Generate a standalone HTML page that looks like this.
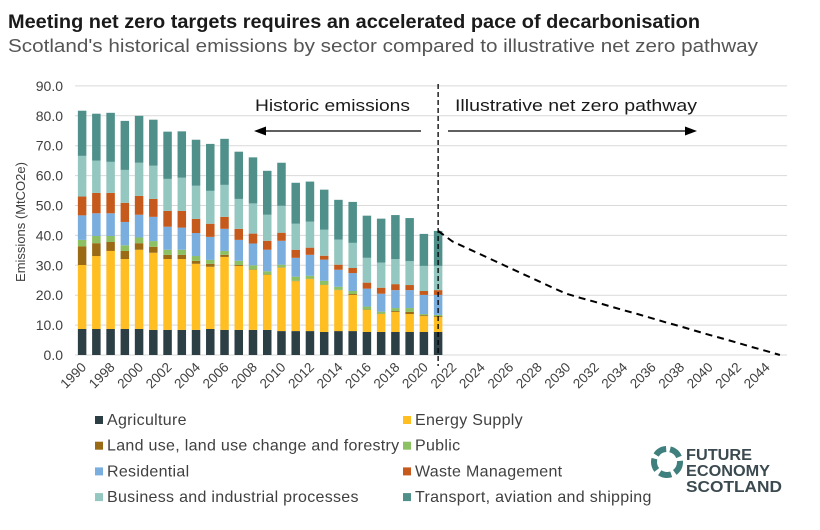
<!DOCTYPE html>
<html><head><meta charset="utf-8"><style>
body{margin:0;background:#fff;font-family:"Liberation Sans",sans-serif}
svg{display:block}
</style></head><body>
<svg id="c" width="820" height="530" viewBox="0 0 820 530">
<text x="8" y="28" font-size="19" font-weight="bold" fill="#1a1a1a" textLength="692" lengthAdjust="spacingAndGlyphs">Meeting net zero targets requires an accelerated pace of decarbonisation</text>
<text x="8" y="52" font-size="18" fill="#555" textLength="750" lengthAdjust="spacingAndGlyphs">Scotland's historical emissions by sector compared to illustrative net zero pathway</text>
<text transform="translate(25,222) rotate(-90)" text-anchor="middle" font-size="13" fill="#404040">Emissions (MtCO2e)</text>
<text x="255" y="111" font-size="17" fill="#1a1a1a" textLength="155" lengthAdjust="spacingAndGlyphs">Historic emissions</text>
<text x="455" y="111" font-size="17" fill="#1a1a1a" textLength="242" lengthAdjust="spacingAndGlyphs">Illustrative net zero pathway</text>
<g><line x1="265" y1="131" x2="421" y2="131" stroke="#000" stroke-width="1.3"/><polygon points="254,131 266,126.5 266,135.5" fill="#000"/></g>
<g><line x1="448" y1="131" x2="686" y2="131" stroke="#000" stroke-width="1.3"/><polygon points="697,131 685,126.5 685,135.5" fill="#000"/></g>
<g id="grid"></g><g id="bars"></g><g id="xl"></g>
<g>
<circle cx="667" cy="462" r="13" fill="none" stroke="#3f7f7d" stroke-width="6" stroke-dasharray="12 4"/>
<text x="686" y="460" font-size="16" font-weight="bold" fill="#3b4a50" textLength="66" lengthAdjust="spacingAndGlyphs">FUTURE</text>
<text x="686" y="476" font-size="16" font-weight="bold" fill="#3b4a50" textLength="84" lengthAdjust="spacingAndGlyphs">ECONOMY</text>
<text x="686" y="492" font-size="16" font-weight="bold" fill="#3b4a50" textLength="96" lengthAdjust="spacingAndGlyphs">SCOTLAND</text>
</g>
<g id="legend"></g>
</svg>
<script>
const categories=['1990','1995','1998','1999','2000','2001','2002','2003','2004','2005','2006','2007','2008','2009','2010','2011','2012','2013','2014','2015','2016','2017','2018','2019','2020','2021','2022','2023','2024','2025','2026','2027','2028','2029','2030','2031','2032','2033','2034','2035','2036','2037','2038','2039','2040','2041','2042','2043','2044','2045'];
const seriesNames=['Agriculture','Energy Supply','Land use, land use change and forestry','Public','Residential','Waste Management','Business and industrial processes','Transport, aviation and shipping'];
const agriculture=[8.7,8.7,8.7,8.7,8.7,8.4,8.4,8.4,8.4,8.7,8.4,8.4,8.4,8.4,8.0,8.0,8.0,7.7,8.0,8.0,7.7,7.7,7.7,7.7,7.7,7.7];
const energySupply=[21.4,24.4,26.1,23.4,26.5,25.8,23.7,23.7,22.1,20.8,24.4,21.4,20.1,18.4,21.2,16.7,17.4,15.7,13.7,12.1,7.4,6.0,6.7,6.0,5.3,5.0];
const landUse=[6.2,4.3,3.0,2.7,2.2,2.0,1.4,1.4,1.0,1.0,0.7,0.3,0.1,0.1,0.1,0.1,0.1,0.1,0.1,0.3,0.1,0.1,0.3,0.7,0.3,0.3];
const publicSector=[2.2,2.4,2.0,1.9,1.9,1.9,1.7,1.7,1.6,1.3,1.3,1.4,1.4,1.1,0.9,1.4,1.0,1.3,1.0,1.0,1.0,0.7,1.0,1.3,0.4,0.4];
const residential=[8.2,7.6,7.6,7.8,7.6,8.1,7.7,7.4,7.7,7.7,7.4,7.0,7.3,7.2,8.0,6.3,7.0,7.1,5.7,6.0,6.0,6.0,6.0,6.0,6.4,6.7];
const waste=[6.3,6.8,6.8,6.4,6.3,6.0,5.3,5.6,4.7,4.4,4.0,3.7,3.3,3.0,2.7,2.7,2.4,1.3,1.7,1.7,2.0,2.0,2.0,1.7,1.3,1.6];
const business=[13.6,10.8,10.4,11.0,11.1,11.1,10.7,11.1,11.1,11.0,10.7,10.0,10.1,8.7,9.0,8.7,8.7,8.7,8.4,8.4,8.3,8.4,8.4,8.0,8.4,8.1];
const transport=[15.1,15.7,16.4,16.4,15.7,15.4,15.8,15.5,15.4,15.7,15.4,15.8,15.4,14.7,14.4,13.7,13.4,13.4,13.3,13.7,14.1,14.7,14.7,14.4,10.7,11.7];
const pathway=[41.5,38.0,35.8,33.6,31.4,29.2,27.0,24.8,22.6,20.5,19.1,17.8,16.4,15.0,13.7,12.3,10.9,9.6,8.2,6.8,5.5,4.1,2.7,1.4,0.0];
const yTicks=[0,10,20,30,40,50,60,70,80,90];
const colors=['#2b3f44','#ffbe22','#9a6b14','#8cc063','#7aaede','#c55a1c','#93c7bf','#4f908b'];
const series=[agriculture,energySupply,landUse,publicSector,residential,waste,business,transport];
const NS='http://www.w3.org/2000/svg';
const L=75,R=787,Y0=355,SC=2.99;
const step=(R-L)/categories.length;
const x=i=>L+step*(i+0.5);
const y=v=>Y0-v*SC;
function mk(p,t,a){const e=document.createElementNS(NS,t);for(const k in a)e.setAttribute(k,a[k]);p.appendChild(e);return e;}
const G=document.getElementById('grid');
yTicks.forEach(t=>{
 const ln=mk(G,'line',{x1:L,x2:R,y1:y(t),y2:y(t),stroke:'#d9d9d9','stroke-width':1});
 
 
 const tx=mk(G,'text',{x:63,y:y(t)+5,'text-anchor':'end','font-size':14,fill:'#404040'});
 tx.textContent=t.toFixed(1);
 
 
});
const B=document.getElementById('bars');
const bw=8.5;
for(let i=0;i<agriculture.length;i++){
 let acc=0;
 series.forEach((s,k)=>{
  const v=s[i];
  const r=mk(B,'rect',{x:x(i)-bw/2,y:y(acc+v),width:bw,height:v*SC,fill:colors[k]});
  
  
  acc+=v;
 });
}
const off=agriculture.length-1;
const pts=pathway.map((v,j)=>x(off+j).toFixed(1)+','+y(v).toFixed(1)).join(' ');
const pl=mk(B,'polyline',{points:pts,fill:'none',stroke:'#000','stroke-width':2,'stroke-dasharray':'7 5'});


const vl=mk(B,'line',{x1:x(off),x2:x(off),y1:84,y2:366,stroke:'#000','stroke-width':1.3,'stroke-dasharray':'5 3'});


const XL=document.getElementById('xl');
categories.forEach((c,i)=>{
 if(i%2)return;
 const t=mk(XL,'text',{transform:`translate(${x(i)+5},${368}) rotate(-45)`,'text-anchor':'end','font-size':13.5,fill:'#404040'});
 t.textContent=c;
 
 
});
const LG=document.getElementById('legend');
seriesNames.forEach((n,k)=>{
 const col=k%2,row=Math.floor(k/2);
 const gx=col?403:95,gy=420+row*25.7;
 const g=mk(LG,'g',{});
 
 
 mk(g,'rect',{x:gx,y:gy-4,width:8,height:8,fill:colors[k]});
 const t=mk(g,'text',{x:gx+12,y:gy+5,'font-size':16,'letter-spacing':0.3,fill:'#404040'});
 t.textContent=n;
});
</script>
</body></html>
